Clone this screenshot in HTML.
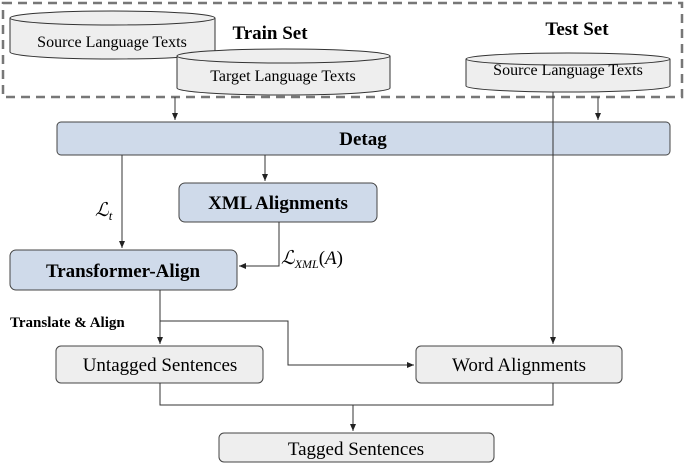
<!DOCTYPE html>
<html><head><meta charset="utf-8"><style>
body{margin:0;background:#fff}
svg{display:block}
text{font-family:"Liberation Serif",serif}
</style></head><body>
<svg width="685" height="463" viewBox="0 0 685 463" xmlns="http://www.w3.org/2000/svg">
<defs><marker id="a" markerWidth="8" markerHeight="8" refX="7" refY="4" orient="auto" markerUnits="userSpaceOnUse"><path d="M0,1 L7,4 L0,7 z" fill="#222"/></marker></defs>
<rect x="3" y="3" width="679" height="94" fill="none" stroke="#777" stroke-width="2.5" stroke-dasharray="9,6"/>
<!-- cylinders -->
<g stroke="#333" stroke-width="1" fill="#eeeeee">
<path d="M10,18 L10,52 A102.5,7 0 0 0 215,52 L215,18"/>
<ellipse cx="112.5" cy="18" rx="102.5" ry="7"/>
<path d="M177,56 L177,88 A106.5,7 0 0 0 390,88 L390,56"/>
<ellipse cx="283.5" cy="56" rx="106.5" ry="7"/>
<path d="M466,59 L466,86 A102,6 0 0 0 670,86 L670,59"/>
<ellipse cx="568" cy="59" rx="102" ry="6"/>
</g>
<text x="112" y="47" font-size="16" text-anchor="middle">Source Language Texts</text>
<text x="283" y="81" font-size="16" text-anchor="middle">Target Language Texts</text>
<text x="568" y="75" font-size="16" text-anchor="middle">Source Language Texts</text>
<text x="270" y="39" font-size="19" font-weight="bold" text-anchor="middle">Train Set</text>
<text x="577" y="35" font-size="19" font-weight="bold" text-anchor="middle">Test Set</text>
<!-- boxes -->
<g stroke="#444" stroke-width="1">
<rect x="57" y="122" width="613" height="33" rx="4" fill="#cfdaea"/>
<rect x="179" y="183" width="198" height="39" rx="6" fill="#cfdaea"/>
<rect x="10" y="250" width="227" height="40" rx="6" fill="#cfdaea"/>
<rect x="56" y="346" width="207" height="37" rx="5" fill="#eeeeee"/>
<rect x="416" y="346" width="206" height="37" rx="5" fill="#eeeeee"/>
<rect x="219" y="433" width="275" height="29" rx="5" fill="#eeeeee"/>
</g>
<text x="363" y="145" font-size="19" font-weight="bold" text-anchor="middle">Detag</text>
<text x="278" y="209" font-size="19" font-weight="bold" text-anchor="middle">XML Alignments</text>
<text x="123" y="277" font-size="19" font-weight="bold" text-anchor="middle">Transformer-Align</text>
<text x="160" y="371" font-size="19" text-anchor="middle">Untagged Sentences</text>
<text x="519" y="371" font-size="19" text-anchor="middle">Word Alignments</text>
<text x="356" y="455" font-size="19" text-anchor="middle">Tagged Sentences</text>
<text x="10" y="327" font-size="15" font-weight="bold">Translate &amp; Align</text>
<text x="95" y="216" font-size="19" font-style="italic">ℒ<tspan font-size="13" dy="4">t</tspan></text>
<text x="281" y="264" font-size="19" font-style="italic">ℒ<tspan font-size="12" dy="4">XML</tspan><tspan dy="-4" font-style="normal">(</tspan>A<tspan font-style="normal">)</tspan></text>
<!-- connectors -->
<g stroke="#333" stroke-width="1" fill="none">
<line x1="175" y1="97" x2="175" y2="120" marker-end="url(#a)"/>
<line x1="598" y1="97" x2="598" y2="120" marker-end="url(#a)"/>
<line x1="553" y1="92" x2="553" y2="344" marker-end="url(#a)"/>
<line x1="122" y1="155" x2="122" y2="248" marker-end="url(#a)"/>
<line x1="265" y1="155" x2="265" y2="181" marker-end="url(#a)"/>
<polyline points="279,222 279,266 239,266" marker-end="url(#a)"/>
<line x1="160" y1="290" x2="160" y2="344" marker-end="url(#a)"/>
<polyline points="160,321 288,321 288,365 414,365" marker-end="url(#a)"/>
<polyline points="160,383 160,405 553,405 553,383"/>
<line x1="353" y1="405" x2="353" y2="431" marker-end="url(#a)"/>
</g>
</svg>
</body></html>
